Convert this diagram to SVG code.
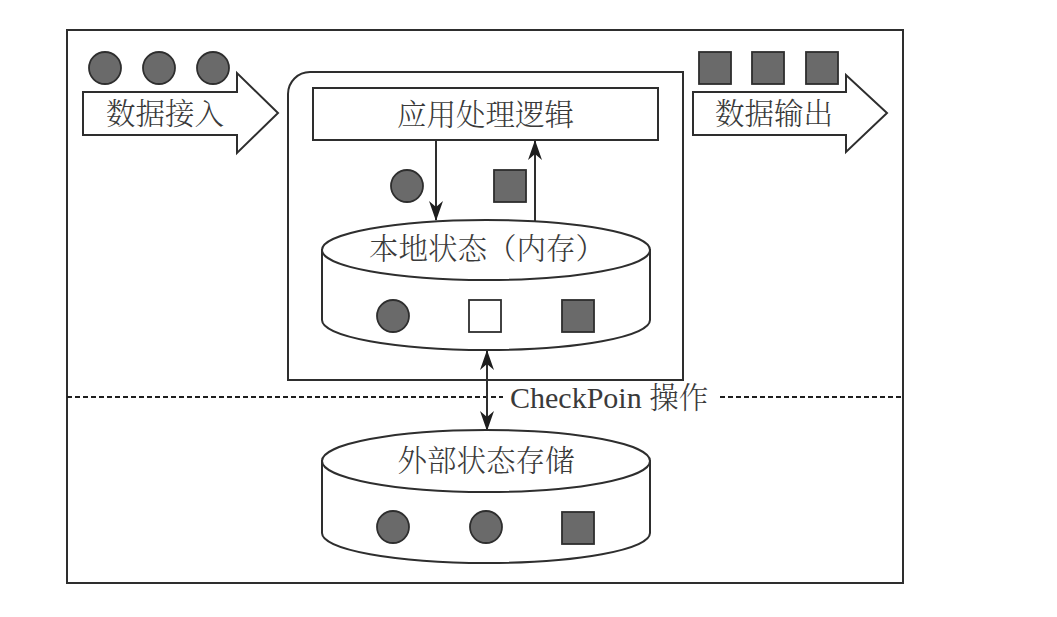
<svg xmlns="http://www.w3.org/2000/svg" width="1057" height="617" viewBox="0 0 1057 617">
<defs>
<style>
.ln{fill:none;stroke:#2e2e2e;stroke-width:2}
.box{fill:#fff;stroke:#2e2e2e;stroke-width:2}
.dot{fill:#6a6a6a;stroke:#2e2e2e;stroke-width:1.8}
.wsq{fill:#fff;stroke:#2e2e2e;stroke-width:1.8}
.cn{font-family:"Noto Serif CJK SC","Noto Sans CJK SC",serif;font-size:29.5px;font-weight:300;fill:#3a3a3a}
.lat{font-family:"Liberation Serif",serif;font-size:30px;fill:#3a3a3a}
.dash{fill:none;stroke:#1e1e1e;stroke-width:2;stroke-dasharray:5 3}
</style>
<marker id="ah" markerUnits="userSpaceOnUse" markerWidth="20" markerHeight="14" refX="19" refY="7" orient="auto-start-reverse">
<path d="M0,0 L20,7 L0,14 L6,7 Z" fill="#1e1e1e"/>
</marker>
</defs>
<rect width="1057" height="617" fill="#fff"/>
<rect id="frame" x="67" y="30" width="836" height="553" class="ln"/>

<g id="connectors">
<line x1="67" y1="397" x2="503" y2="397" class="dash"/>
<line x1="720" y1="397" x2="902" y2="397" class="dash"/>
<line x1="436" y1="140" x2="436" y2="220" class="ln" marker-end="url(#ah)"/>
<line x1="535" y1="221" x2="535" y2="141" class="ln" marker-end="url(#ah)"/>
<line x1="487" y1="351" x2="487" y2="430" class="ln" marker-start="url(#ah)" marker-end="url(#ah)"/>
</g>

<g id="input">
<polygon points="83,92 237,92 237,73 278,113 237,153 237,135 83,135" class="box"/>
<text x="106" y="124" class="cn">数据接入</text>
<circle cx="105" cy="68" r="16" class="dot"/>
<circle cx="159" cy="68" r="16" class="dot"/>
<circle cx="213" cy="68" r="16" class="dot"/>
</g>

<g id="output">
<polygon points="693,92 846,92 846,75 887,113 846,152 846,135 693,135" class="box"/>
<text x="715" y="124" class="cn">数据输出</text>
<rect x="699" y="52" width="32" height="32" class="dot"/>
<rect x="752" y="52" width="32" height="32" class="dot"/>
<rect x="806" y="52" width="32" height="32" class="dot"/>
</g>

<g id="operator">
<path d="M288,380 L288,94 A22,22 0 0 1 310,72 L683,72 L683,380 Z" class="ln"/>
</g>

<g id="app-logic">
<rect x="313" y="88" width="345" height="52" class="box"/>
<text x="485.5" y="125" class="cn" text-anchor="middle">应用处理逻辑</text>
</g>

<circle cx="407" cy="186" r="16" class="dot"/>
<rect x="494" y="170" width="32" height="32" class="dot"/>

<g id="local-state">
<path d="M322,250 L322,320 A164,30 0 0 0 650,320 L650,250 Z" class="box"/>
<ellipse cx="486" cy="250" rx="164" ry="30" class="box"/>
<text x="487" y="259" class="cn" text-anchor="middle">本地状态（内存）</text>
<circle cx="393" cy="316" r="16" class="dot"/>
<rect x="469" y="300" width="32" height="32" class="wsq"/>
<rect x="562" y="300" width="32" height="32" class="dot"/>
</g>

<g id="checkpoint-label">
<text x="510" y="408" class="lat">CheckPoin <tspan class="cn">操作</tspan></text>
</g>

<g id="external-state">
<path d="M322,461 L322,533 A164,30 0 0 0 650,533 L650,461 Z" class="box"/>
<ellipse cx="486" cy="461" rx="164" ry="31" class="box"/>
<text x="486" y="471" class="cn" text-anchor="middle">外部状态存储</text>
<circle cx="393" cy="527" r="16" class="dot"/>
<circle cx="486" cy="527" r="16" class="dot"/>
<rect x="562" y="512" width="32" height="32" class="dot"/>
</g>
</svg>
